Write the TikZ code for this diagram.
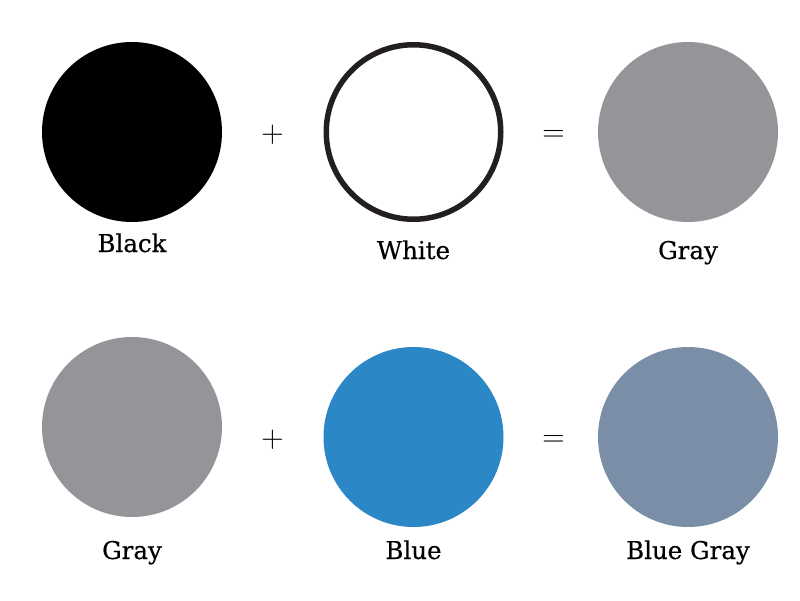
\documentclass[tikz,border=0pt]{standalone}
\usepackage{fontspec}
\setmainfont[FakeBold=0.5,BoldFont={DejaVu Serif}]{DejaVu Serif}
\definecolor{cgray}{HTML}{939598}
\definecolor{cblue}{HTML}{2B87C6}
\definecolor{cbluegray}{HTML}{7A8FA7}
\definecolor{cring}{HTML}{231F20}
\begin{document}
\begin{tikzpicture}[x=1pt,y=-1pt,
  disc/.style={circle,minimum size=180pt,inner sep=0pt,draw=none},
  lbl/.style={anchor=base,font=\fontsize{24.5}{27}\selectfont\bfseries,text=black,inner sep=0pt},
  op/.style={font=\fontspec{Latin Modern Roman}\fontsize{31}{33}\selectfont,inner sep=0pt}]
\useasboundingbox (0,0) rectangle (800,600);
% row 1
\node[disc,fill=black] (black) at (132,132) {};
\node[circle,minimum size=174.5pt,inner sep=0pt,draw=cring,line width=5.5pt,fill=white] (white) at (413.5,132) {};
\node[disc,fill=cgray] (gray1) at (688,132) {};
\node[lbl] (lblack) at (132,252) {Black};
\node[lbl] (lwhite) at (413.5,259) {White};
\node[lbl] (lgray1) at (688,259) {Gray};
\node[op] (plus1) at (272.5,135) {+};
\node[op] (eq1) at (553.5,136) {=};
% row 2
\node[disc,fill=cgray] (gray2) at (132,427) {};
\node[disc,fill=cblue] (blue) at (413.5,437) {};
\node[disc,fill=cbluegray] (bluegray) at (688,437) {};
\node[lbl] (lgray2) at (132,559) {Gray};
\node[lbl] (lblue) at (413.5,559) {Blue};
\node[lbl] (lbluegray) at (688,559) {Blue Gray};
\node[op] (plus2) at (272.5,440) {+};
\node[op] (eq2) at (553.5,441) {=};
\end{tikzpicture}
\end{document}
